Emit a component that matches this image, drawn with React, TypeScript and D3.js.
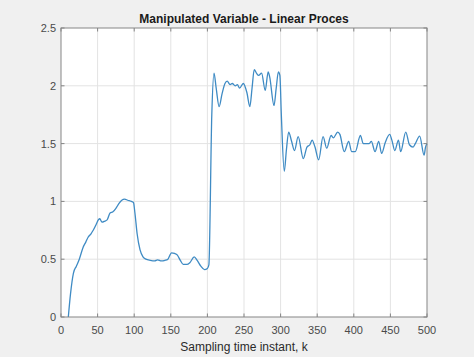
import React from "react";
import * as d3 from "d3";

const TITLE = "Manipulated Variable - Linear Proces";
const XLABEL = "Sampling time instant, k";
const X_TICKS = [0, 50, 100, 150, 200, 250, 300, 350, 400, 450, 500];
const Y_TICKS = [0, 0.5, 1, 1.5, 2, 2.5];

const kValues = [
  10, 13, 17, 21, 25, 30, 34, 37, 41, 44, 48, 51, 53, 56, 60, 63, 67, 71, 75, 79,
  83, 87, 91, 96, 99, 101, 104, 108, 112, 116, 122, 128, 132, 137, 142, 146, 151,
  155, 159, 163, 167, 172, 176, 182, 186, 191, 196, 200, 202, 206, 209, 212, 216,
  220, 224, 227, 231, 234, 238, 241, 244, 249, 254, 258, 261, 264, 267, 270, 274,
  279, 283, 285, 291, 294, 297, 299, 301, 305, 308, 311, 315, 319, 324, 331, 336,
  340, 343, 347, 352, 358, 363, 369, 372, 378, 381, 387, 393, 397, 402, 409, 413,
  421, 424, 429, 434, 438, 443, 449, 452, 456, 461, 464, 471, 476, 481, 484, 490,
  496, 498, 500,
];
const uValues = [
  0, 0.2, 0.38, 0.44, 0.5, 0.6, 0.65, 0.69, 0.72, 0.75, 0.8, 0.84, 0.85, 0.82, 0.83,
  0.84, 0.9, 0.91, 0.94, 0.98, 1.01, 1.02, 1.01, 1.0, 0.99, 0.9, 0.72, 0.58, 0.52,
  0.5, 0.49, 0.485, 0.495, 0.485, 0.49, 0.5, 0.555, 0.55, 0.535, 0.49, 0.455, 0.455,
  0.47, 0.52, 0.49, 0.44, 0.41, 0.42, 0.45, 1.75, 2.11, 1.98, 1.82, 1.93, 2.02, 2.04,
  2.01, 2.02, 2.0, 2.01, 1.98, 2.02, 1.94, 1.82, 1.98, 2.14, 2.11, 2.09, 2.11, 1.96,
  2.12, 2.08, 1.83, 1.98, 2.12, 2.09, 1.75, 1.26, 1.45, 1.6, 1.52, 1.44, 1.56, 1.37,
  1.47, 1.49, 1.53, 1.47, 1.36, 1.56, 1.46, 1.57, 1.55, 1.6, 1.58, 1.43, 1.52, 1.43,
  1.43, 1.57, 1.5, 1.5, 1.52, 1.43, 1.52, 1.415, 1.51, 1.58, 1.53, 1.44, 1.53, 1.43,
  1.6, 1.49, 1.47, 1.5, 1.565, 1.4, 1.47, 1.5,
];

const W = 474;
const H = 357;
const M = { left: 61, right: 427, top: 28, bottom: 317 };

export default function App() {
  const x = d3.scaleLinear().domain([0, 500]).range([M.left, M.right]);
  const y = d3.scaleLinear().domain([0, 2.5]).range([M.bottom, M.top]);
  const data = kValues.map((k, i) => [k, uValues[i]] as [number, number]);
  const line = d3
    .line<[number, number]>()
    .x((d) => x(d[0]))
    .y((d) => y(d[1]))
    .curve(d3.curveMonotoneX);
  const font = "'Liberation Sans', Arial, Helvetica, sans-serif";
  const tickLen = 3.5;
  return (
    <svg
      width={W}
      height={H}
      style={{ position: "absolute", left: 0, top: 0, display: "block" }}
      fontFamily={font}
    >
      <rect x={0} y={0} width={W} height={H} fill="#f0f0f0" />
      <rect
        x={M.left}
        y={M.top}
        width={M.right - M.left}
        height={M.bottom - M.top}
        fill="#ffffff"
      />
      {X_TICKS.slice(1, -1).map((t) => (
        <line key={"gx" + t} x1={x(t)} x2={x(t)} y1={M.top} y2={M.bottom} stroke="#e3e3e3" strokeWidth={1} />
      ))}
      {Y_TICKS.slice(1, -1).map((t) => (
        <line key={"gy" + t} x1={M.left} x2={M.right} y1={y(t)} y2={y(t)} stroke="#e3e3e3" strokeWidth={1} />
      ))}
      <path d={line(data) || ""} fill="none" stroke="#3f8bc4" strokeWidth={1.3} strokeLinejoin="round" />
      <rect
        x={M.left}
        y={M.top}
        width={M.right - M.left}
        height={M.bottom - M.top}
        fill="none"
        stroke="#858585"
        strokeWidth={1}
      />
      {X_TICKS.map((t) => (
        <g key={"tx" + t}>
          <line x1={x(t)} x2={x(t)} y1={M.bottom} y2={M.bottom - tickLen} stroke="#858585" />
          <line x1={x(t)} x2={x(t)} y1={M.top} y2={M.top + tickLen} stroke="#858585" />
          <text x={x(t)} y={334} textAnchor="middle" fontSize={11} fill="#4a4a4a">
            {t}
          </text>
        </g>
      ))}
      {Y_TICKS.map((t) => (
        <g key={"ty" + t}>
          <line x1={M.left} x2={M.left + tickLen} y1={y(t)} y2={y(t)} stroke="#858585" />
          <line x1={M.right} x2={M.right - tickLen} y1={y(t)} y2={y(t)} stroke="#858585" />
          <text x={56} y={y(t) + 4} textAnchor="end" fontSize={11} fill="#4a4a4a">
            {t}
          </text>
        </g>
      ))}
      <text x={(M.left + M.right) / 2} y={23} textAnchor="middle" fontSize={12} fontWeight="bold" fill="#1a1a1a">
        {TITLE}
      </text>
      <text x={(M.left + M.right) / 2} y={351} textAnchor="middle" fontSize={12} fill="#2a2a2a">
        {XLABEL}
      </text>
    </svg>
  );
}
